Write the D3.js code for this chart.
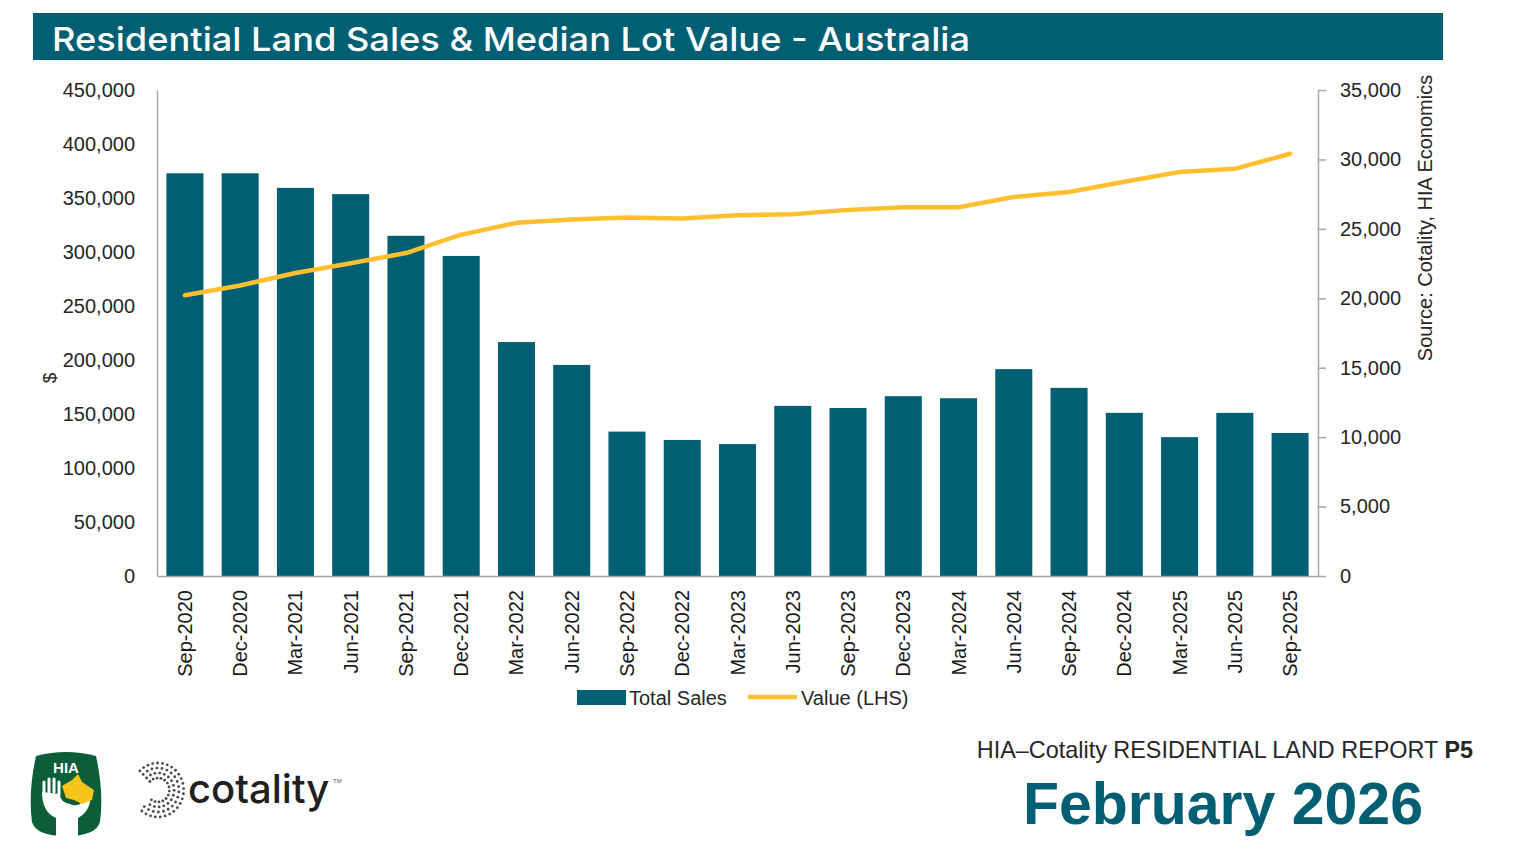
<!DOCTYPE html>
<html>
<head>
<meta charset="utf-8">
<script src="https://cdn.jsdelivr.net/npm/d3@7"></script>
<style>
  body { margin: 0; background: #fff; }
  svg { display: block; }
</style>
</head>
<body>
<div id="chart"></div>
<script>
var W = 1536, H = 858;

var quarters = ['Sep-2020','Dec-2020','Mar-2021','Jun-2021','Sep-2021','Dec-2021','Mar-2022','Jun-2022',
  'Sep-2022','Dec-2022','Mar-2023','Jun-2023','Sep-2023','Dec-2023','Mar-2024','Jun-2024',
  'Sep-2024','Dec-2024','Mar-2025','Jun-2025','Sep-2025'];

// lot sales (right axis)
var totalSales = [29000, 29000, 27950, 27500, 24500, 23050, 16850, 15200, 10400, 9800, 9500,
  12250, 12100, 12950, 12800, 14900, 13550, 11750, 10000, 11750, 10300];

// median lot value $ (left axis)
var lotValue = [260000, 269000, 280500, 289500, 299000, 316000, 327000, 330000, 332000, 331000, 334000,
  335000, 339000, 341500, 341500, 351000, 355500, 365000, 374000, 377000, 391000];

var leftTicks = [0, 50000, 100000, 150000, 200000, 250000, 300000, 350000, 400000, 450000];
var rightTicks = [0, 5000, 10000, 15000, 20000, 25000, 30000, 35000];

var teal = '#005f73';
var gold = '#ffbf2e';
var fmt = d3.format(',');

var svg = d3.select('#chart').append('svg')
  .attr('width', W)
  .attr('height', H);

// title bar
svg.append('rect')
  .attr('x', 33).attr('y', 13)
  .attr('width', 1410).attr('height', 47)
  .attr('fill', teal);

svg.append('text')
  .attr('x', 52).attr('y', 51)
  .attr('fill', '#fff')
  .attr('font-family', 'Inter, "Noto Sans", sans-serif')
  .attr('font-size', 33)
  .attr('font-weight', 500)
  .attr('textLength', 918)
  .attr('lengthAdjust', 'spacingAndGlyphs')
  .text('Residential Land Sales & Median Lot Value - Australia');

var plotL = 157, plotR = 1318, plotT = 90, plotB = 576;

var x = d3.scaleBand()
  .domain(quarters)
  .range([plotL, plotR])
  .paddingInner(0.33)
  .paddingOuter(0.17);

var yL = d3.scaleLinear().domain([0, 450000]).range([plotB, plotT]);
var yR = d3.scaleLinear().domain([0, 35000]).range([plotB, plotT]);

var tickFont = '"Liberation Sans", Arial, sans-serif';

// bars
svg.append('g').selectAll('rect')
  .data(quarters)
  .join('rect')
  .attr('x', function(d) { return x(d); })
  .attr('y', function(d, i) { return yR(totalSales[i]); })
  .attr('width', x.bandwidth())
  .attr('height', function(d, i) { return plotB - yR(totalSales[i]); })
  .attr('fill', teal);

// line
var line = d3.line()
  .x(function(d, i) { return x(quarters[i]) + x.bandwidth() / 2; })
  .y(function(d) { return yL(d); });

svg.append('path')
  .datum(lotValue)
  .attr('d', line)
  .attr('fill', 'none')
  .attr('stroke', gold)
  .attr('stroke-width', 4.5)
  .attr('stroke-linejoin', 'round')
  .attr('stroke-linecap', 'round');

// left axis
var gL = svg.append('g')
  .attr('transform', 'translate(' + plotL + ',0)')
  .call(d3.axisLeft(yL).tickValues(leftTicks).tickFormat(fmt).tickSize(0).tickPadding(22));
gL.select('.domain').attr('stroke', '#a6a6a6').attr('stroke-width', 1.5);
gL.selectAll('text').attr('font-family', tickFont).attr('font-size', 20).attr('fill', '#262626');

// right axis
var gR = svg.append('g')
  .attr('transform', 'translate(' + plotR + ',0)')
  .call(d3.axisRight(yR).tickValues(rightTicks).tickFormat(fmt).tickSize(8).tickSizeOuter(0).tickPadding(14));
gR.select('.domain').attr('stroke', '#a6a6a6').attr('stroke-width', 1.5);
gR.selectAll('line').attr('stroke', '#a6a6a6').attr('stroke-width', 1.5);
gR.selectAll('text').attr('font-family', tickFont).attr('font-size', 20).attr('fill', '#262626');

// bottom axis
var gB = svg.append('g')
  .attr('transform', 'translate(0,' + plotB + ')')
  .call(d3.axisBottom(x).tickSize(0).tickPadding(0));
gB.select('.domain').attr('stroke', '#a6a6a6').attr('stroke-width', 1.5);
gB.selectAll('text')
  .attr('font-family', tickFont).attr('font-size', 20).attr('fill', '#1a1a1a')
  .attr('transform', 'translate(0,14) rotate(-90)')
  .attr('text-anchor', 'end')
  .attr('dy', '0.35em')
  .attr('y', 0).attr('x', 0);

// y title
svg.append('text')
  .attr('transform', 'translate(56,378) rotate(-90)')
  .attr('text-anchor', 'middle')
  .attr('font-family', tickFont).attr('font-size', 19).attr('fill', '#262626')
  .text('$');

// source
svg.append('text')
  .attr('transform', 'translate(1432,218) rotate(-90)')
  .attr('text-anchor', 'middle')
  .attr('font-family', tickFont).attr('font-size', 20).attr('fill', '#262626')
  .text('Source: Cotality, HIA Economics');

// legend
var lg = svg.append('g');
lg.append('rect').attr('x', 577).attr('y', 690).attr('width', 49).attr('height', 15).attr('fill', teal);
lg.append('text').attr('x', 629).attr('y', 705)
  .attr('font-family', tickFont).attr('font-size', 20).attr('fill', '#262626').text('Total Sales');
lg.append('line').attr('x1', 748).attr('x2', 797).attr('y1', 697).attr('y2', 697)
  .attr('stroke', gold).attr('stroke-width', 4.5);
lg.append('text').attr('x', 801).attr('y', 705)
  .attr('font-family', tickFont).attr('font-size', 20).attr('fill', '#262626').text('Value (LHS)');

// footer
var ft = svg.append('text')
  .attr('x', 1473).attr('y', 758)
  .attr('text-anchor', 'end')
  .attr('font-family', tickFont).attr('font-size', 23.4).attr('fill', '#262626');
ft.append('tspan').text('HIA\u2013Cotality RESIDENTIAL LAND REPORT ');
ft.append('tspan').attr('font-weight', 'bold').text('P5');

svg.append('text')
  .attr('x', 1423).attr('y', 824)
  .attr('text-anchor', 'end')
  .attr('font-family', tickFont).attr('font-size', 59).attr('font-weight', 'bold')
  .attr('fill', teal)
  .text('February 2026');

// HIA logo
var hia = svg.append('g').attr('transform', 'translate(30,752)');
hia.append('path')
  .attr('d', 'M6,4 Q36,-4 66,4 Q74,40 70,70 Q66,84 36,84 Q6,84 2,70 Q-2,40 6,4 Z')
  .attr('fill', '#0b5e38');
hia.append('text').attr('x', 36).attr('y', 21).attr('text-anchor', 'middle')
  .attr('font-family', tickFont).attr('font-weight', 'bold').attr('font-size', 15).attr('fill', '#fff')
  .text('HIA');
hia.append('path')
  .attr('d', 'M14,40 L14,30 M19,40 L19,27 M24,40 L24,27 M29,42 L29,30')
  .attr('stroke', '#fff').attr('stroke-width', 3).attr('stroke-linecap', 'round');
hia.append('path')
  .attr('d', 'M12,40 Q12,60 26,66 L26,84 L48,84 L48,66 Q62,58 60,42 L54,48 Q48,56 40,52 Q30,50 30,42 Z')
  .attr('fill', '#fff');
hia.append('path')
  .attr('d', 'M32,34 L42,28 L48,22 L52,30 L64,38 L62,48 L52,52 L44,48 L36,46 Z')
  .attr('fill', '#f4c51c');

// cotality logo: dotted C
var cg = svg.append('g').attr('transform', 'translate(158,790)');
var rings = [12, 17, 22, 27];
rings.forEach(function(r, ri) {
  for (var a = 45; a <= 315; a += 20 - ri * 3) {
    var t = (a + 180) * Math.PI / 180;
    cg.append('circle')
      .attr('cx', Math.cos(t) * r * 0.95)
      .attr('cy', Math.sin(t) * r)
      .attr('r', 1.4)
      .attr('fill', '#4a4a4a');
  }
});
svg.append('text')
  .attr('x', 188).attr('y', 803)
  .attr('font-family', 'Inter, "Noto Sans", sans-serif')
  .attr('font-size', 40).attr('font-weight', 500)
  .attr('fill', '#231f20')
  .text('cotality');
svg.append('text')
  .attr('x', 333).attr('y', 783)
  .attr('font-family', tickFont).attr('font-size', 6).attr('fill', '#555')
  .text('TM');
</script>
</body>
</html>
